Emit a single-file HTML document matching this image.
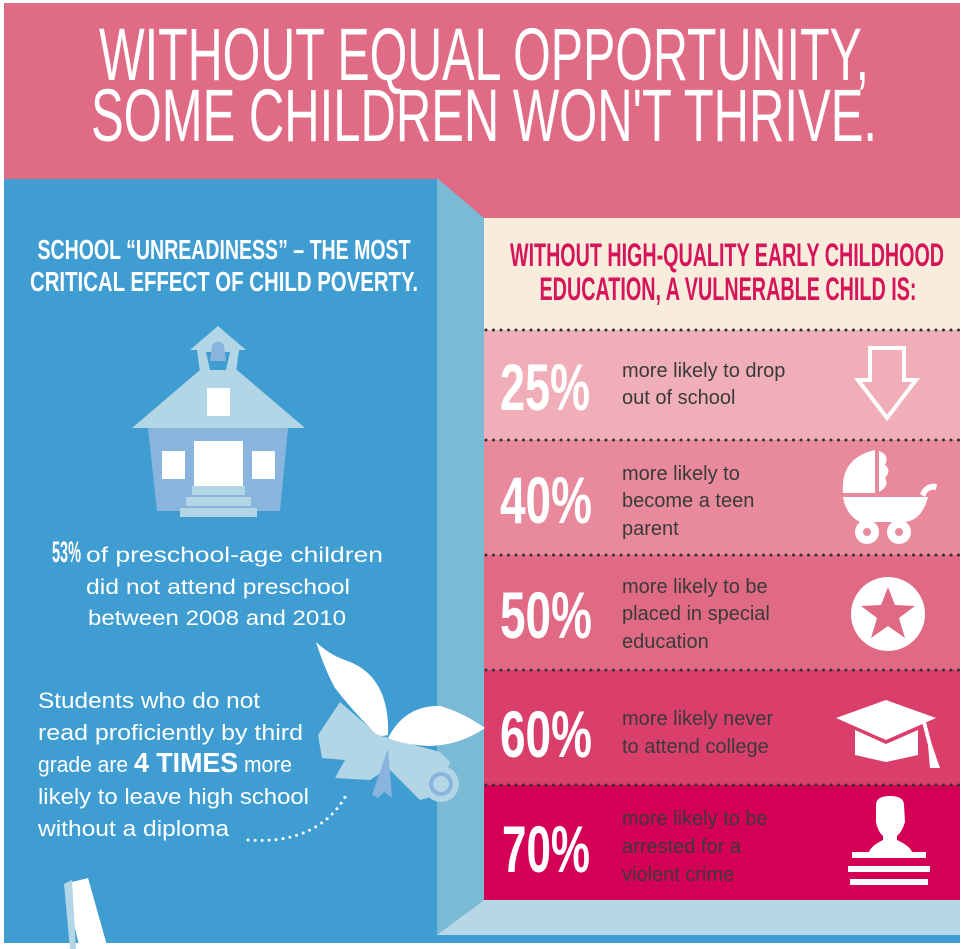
<!DOCTYPE html>
<html><head><meta charset="utf-8"><style>
html,body{margin:0;padding:0;background:#fff}
svg{display:block}
.c{font-family:"Liberation Sans Narrow","Liberation Sans",sans-serif;font-weight:bold}
.s{font-family:"Liberation Sans",sans-serif}
</style></head><body>
<svg width="964" height="949" viewBox="0 0 964 949" xmlns="http://www.w3.org/2000/svg">
<rect x="0" y="0" width="964" height="949" fill="#fff"/>
<rect x="4" y="178" width="956" height="765" fill="#3f9dd1"/>
<rect x="4" y="3" width="956" height="176" fill="#e06b84"/>
<polygon points="436,178 960,178 960,220 484,220" fill="#e06b84"/>
<text class="c" x="484" y="80" text-anchor="middle" font-size="74" font-weight="normal" fill="#fff" textLength="770" lengthAdjust="spacingAndGlyphs" style="font-weight:normal">WITHOUT EQUAL OPPORTUNITY,</text>
<text class="c" x="484" y="141" text-anchor="middle" font-size="74" fill="#fff" textLength="786" lengthAdjust="spacingAndGlyphs" style="font-weight:normal">SOME CHILDREN WON'T THRIVE.</text>
<polygon points="437,178 484,218 484,900 437,935" fill="#7bbad4"/>
<polygon points="484,900 960,900 960,935 437,935" fill="#b5d7e6"/>
<rect x="484" y="218" width="476" height="112" fill="#f8ecdc"/>
<text class="c" x="727" y="266" text-anchor="middle" font-size="32" fill="#d5145a" textLength="434" lengthAdjust="spacingAndGlyphs">WITHOUT HIGH-QUALITY EARLY CHILDHOOD</text>
<text class="c" x="728" y="300" text-anchor="middle" font-size="32" fill="#d5145a" textLength="377" lengthAdjust="spacingAndGlyphs">EDUCATION, A VULNERABLE CHILD IS:</text>
<rect x="484" y="330" width="476" height="110" fill="#f0aeb8"/>
<rect x="484" y="440" width="476" height="115" fill="#e88a9b"/>
<rect x="484" y="555" width="476" height="115" fill="#e06a84"/>
<rect x="484" y="670" width="476" height="115" fill="#da3f6c"/>
<rect x="484" y="785" width="476" height="115" fill="#d40056"/>
<g stroke="#333" stroke-width="3" stroke-dasharray="0 7.5" stroke-linecap="round">
<line x1="486" y1="330" x2="960" y2="330"/>
<line x1="486" y1="440" x2="960" y2="440"/>
<line x1="486" y1="555" x2="960" y2="555"/>
<line x1="486" y1="670" x2="960" y2="670"/>
<line x1="486" y1="785" x2="960" y2="785"/>
</g>
<g class="c" fill="#fff" font-size="66">
<text x="500" y="410" textLength="90" lengthAdjust="spacingAndGlyphs">25%</text>
<text x="500" y="523" textLength="92" lengthAdjust="spacingAndGlyphs">40%</text>
<text x="500" y="638" textLength="92" lengthAdjust="spacingAndGlyphs">50%</text>
<text x="500" y="757" textLength="92" lengthAdjust="spacingAndGlyphs">60%</text>
<text x="502" y="872" textLength="88" lengthAdjust="spacingAndGlyphs">70%</text>
</g>
<g class="s" fill="#3a3a3a" font-size="20">
<text x="622" y="377">more likely to drop</text>
<text x="622" y="404">out of school</text>
<text x="622" y="480">more likely to</text>
<text x="622" y="507">become a teen</text>
<text x="622" y="535">parent</text>
<text x="622" y="593">more likely to be</text>
<text x="622" y="620">placed in special</text>
<text x="622" y="648">education</text>
<text x="622" y="725">more likely never</text>
<text x="622" y="753">to attend college</text>
<text x="622" y="825">more likely to be</text>
<text x="622" y="853">arrested for a</text>
<text x="622" y="881">violent crime</text>
</g>
<polygon points="870,348 904,348 904,380 916,380 887,418 858,380 870,380" fill="none" stroke="#fff" stroke-width="4"/>
<g fill="#fff">
<path d="M875,450 L875,493 L843,493 Q840,458 875,450Z"/>
<path d="M879,451 Q890,455 885,465 Q892,470 885,478 Q890,486 879,492Z"/>
<path d="M843,497 L928,497 Q922,520 905,522 L860,522 Q846,515 843,497Z"/>
<path d="M920,494 Q925,482 937,484 L936,490 Q928,488 925,497Z"/>
<circle cx="867" cy="532" r="12"/><circle cx="899" cy="532" r="12"/>
</g>
<circle cx="867" cy="532" r="4" fill="#e88a9b"/><circle cx="899" cy="532" r="4" fill="#e88a9b"/>
<circle cx="888" cy="614" r="37" fill="#fff"/>
<polygon points="888,587 895,605 915,606 899,618 905,638 888,626 871,638 877,618 861,606 881,605" fill="#e06a84"/>
<g fill="#fff">
<polygon points="836,718 886,700 936,718 886,740"/>
<polygon points="855,730 886,744 918,730 918,755 886,762 855,755"/>
<polygon points="922,722 926,722 932,745 940,768 930,768 928,745"/>
<path d="M876,805 Q876,796 890,796 Q904,796 904,805 L905,822 Q902,832 897,836 L897,840 Q910,846 912,852 L869,852 Q871,846 883,840 L883,836 Q878,832 876,822Z"/>
<rect x="852" y="852" width="74" height="6"/>
<rect x="848" y="866" width="82" height="6"/>
<rect x="850" y="879" width="78" height="6"/>
</g>
<text class="c" x="224" y="259" text-anchor="middle" font-size="28" fill="#fff" textLength="373" lengthAdjust="spacingAndGlyphs">SCHOOL “UNREADINESS” – THE MOST</text>
<text class="c" x="224" y="291" text-anchor="middle" font-size="28" fill="#fff" textLength="388" lengthAdjust="spacingAndGlyphs">CRITICAL EFFECT OF CHILD POVERTY.</text>
<g>
<polygon points="218,326 246,350 239,350 236,372 200,372 197,350 190,350" fill="#b3d6e6"/>
<polygon points="206,352 230,352 226,370 210,370" fill="#3f9dd1"/>
<path d="M212,345 Q218,338 224,345 L226,361 L210,361Z" fill="#88b4dd"/>
<polygon points="200,370 237,370 305,428 132,428" fill="#b3d6e6"/>
<polygon points="148,428 288,428 280,511 157,511" fill="#88b4dd"/>
<rect x="207" y="388" width="23" height="28" fill="#fff"/>
<rect x="162" y="451" width="23" height="28" fill="#fff"/>
<rect x="252" y="451" width="23" height="28" fill="#fff"/>
<rect x="194" y="441" width="49" height="46" fill="#fff"/>
<rect x="192" y="486" width="53" height="9" fill="#b3d6e6"/>
<rect x="186" y="497" width="65" height="9" fill="#b3d6e6"/>
<rect x="180" y="508" width="77" height="9" fill="#b3d6e6"/>
</g>
<g class="s" fill="#fff" font-size="21">
<text x="86" y="562" textLength="297" lengthAdjust="spacingAndGlyphs">of preschool-age children</text>
<text x="86" y="594" textLength="264" lengthAdjust="spacingAndGlyphs">did not attend preschool</text>
<text x="88" y="625" textLength="258" lengthAdjust="spacingAndGlyphs">between 2008 and 2010</text>
</g>
<text class="c" x="52" y="562" font-size="30" fill="#fff" textLength="29" lengthAdjust="spacingAndGlyphs">53%</text>
<g class="s" fill="#fff" font-size="22">
<text x="38" y="708" textLength="222" lengthAdjust="spacingAndGlyphs">Students who do not</text>
<text x="38" y="740" textLength="265" lengthAdjust="spacingAndGlyphs">read proficiently by third</text>
<text x="38" y="772" textLength="254" lengthAdjust="spacingAndGlyphs">grade are <tspan class="c" font-size="28">4 TIMES</tspan> more</text>
<text x="38" y="804" textLength="271" lengthAdjust="spacingAndGlyphs">likely to leave high school</text>
<text x="38" y="836" textLength="191" lengthAdjust="spacingAndGlyphs">without a diploma</text>
</g>
<path d="M248,840 Q320,845 348,792" fill="none" stroke="#fff" stroke-width="3" stroke-dasharray="0 7" stroke-linecap="round"/>
<path d="M340,702 L378,735 L440,752 L450,762 L438,795 L420,800 L388,768 L370,780 L335,778 L345,760 L322,758 L318,735 Z" fill="#b3d6e6"/>
<circle cx="441" cy="784" r="18" fill="#b3d6e6"/>
<circle cx="441" cy="784" r="10" fill="none" stroke="#88b4dd" stroke-width="4"/>
<path d="M388,748 L372,795 L378,798 L384,792 L392,798 Z" fill="#88b4dd"/>
<path d="M316,642 Q330,655 345,660 Q390,675 388,735 Q378,738 372,730 Q352,710 335,688 Q325,670 316,642Z" fill="#fff"/>
<path d="M388,738 Q405,705 440,706 Q462,712 485,728 Q460,745 430,746 Q405,745 388,738Z" fill="#fff"/>
<polygon points="64,884 88,878 108,949 80,949" fill="#fff"/>
<polygon points="64,884 72,880 76,949 70,949" fill="#b3d6e6"/>
</svg>
</body></html>
